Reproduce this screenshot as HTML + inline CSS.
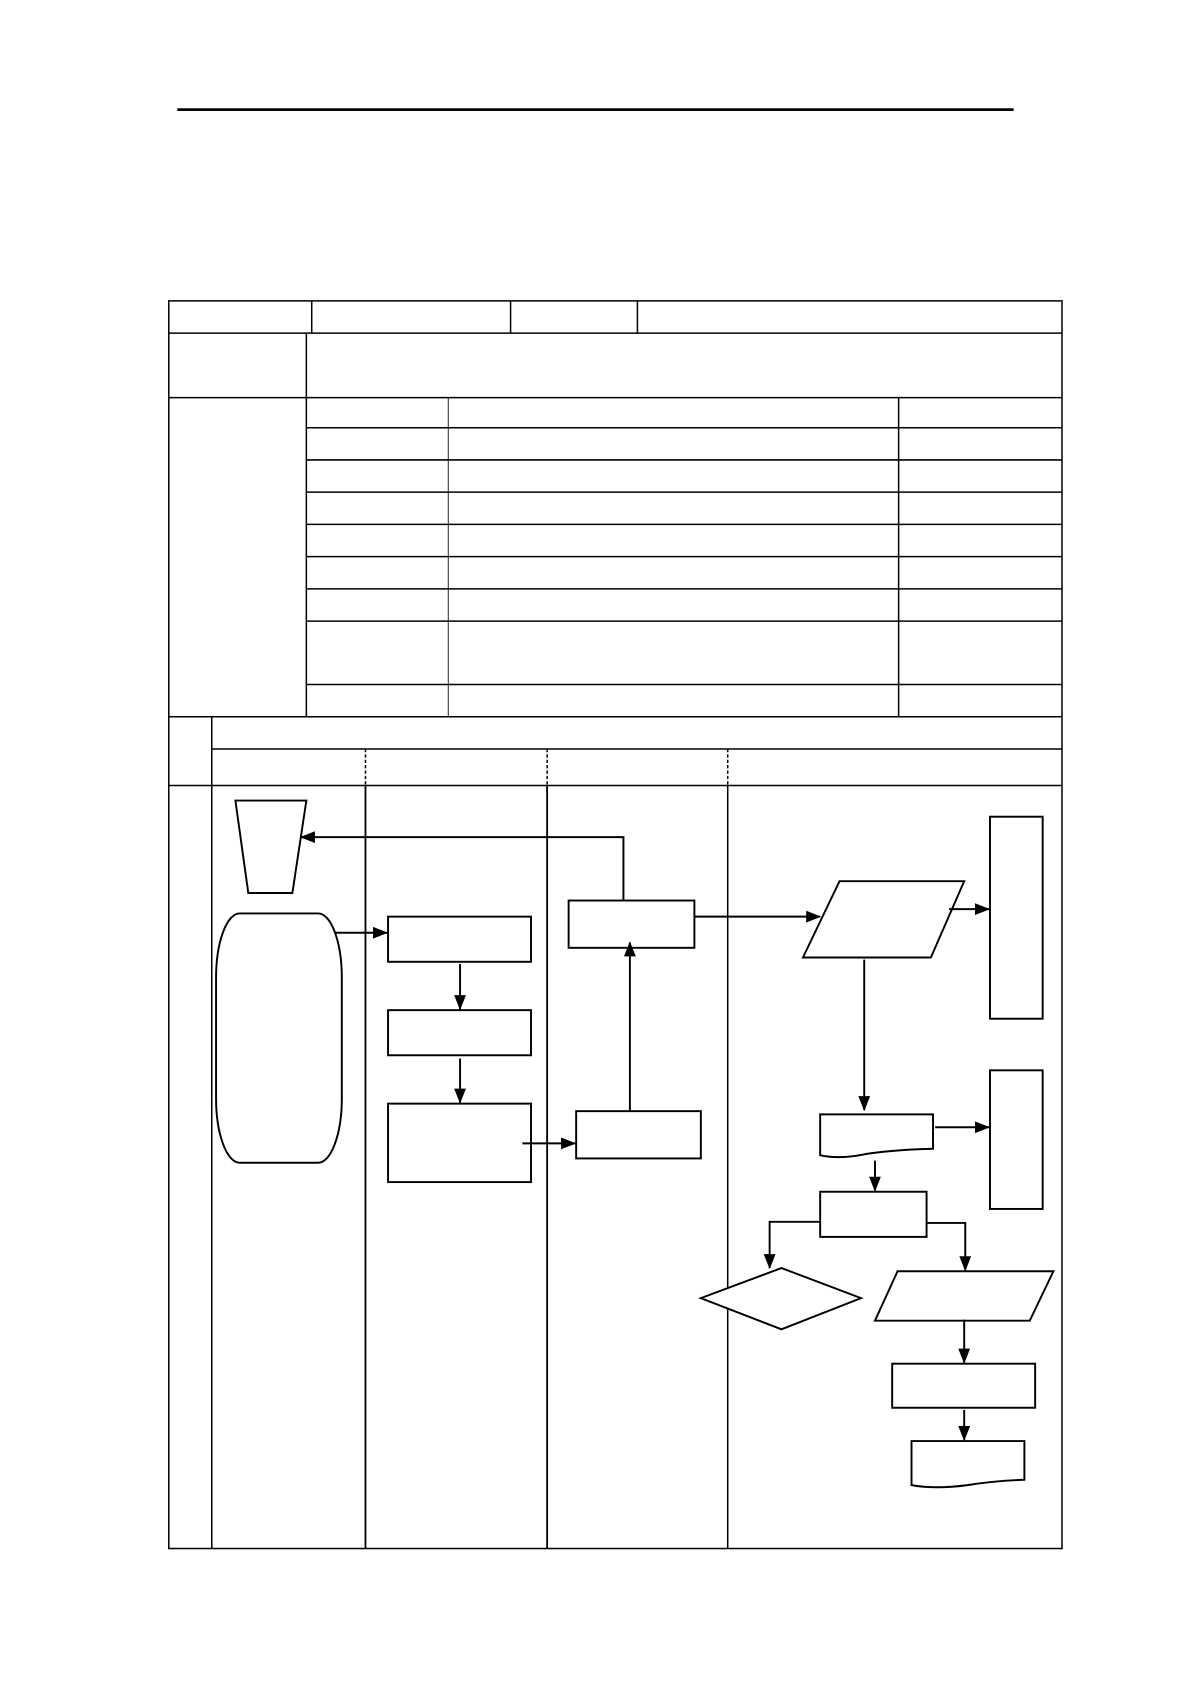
<!DOCTYPE html>
<html><head><meta charset="utf-8"><style>html,body{margin:0;padding:0;background:#fff}svg{display:block}</style></head>
<body>
<svg width="1191" height="1685" viewBox="0 0 1108 1568" preserveAspectRatio="none" xmlns="http://www.w3.org/2000/svg">
<defs><marker id="a" markerWidth="14" markerHeight="11" refX="13" refY="5.5" orient="auto" markerUnits="userSpaceOnUse"><path d="M0,0 L14,5.5 L0,11 z" fill="#000"/></marker></defs>
<line x1="165" y1="102" x2="943" y2="102" stroke="#000" stroke-width="2.5"/>
<g stroke="#000" stroke-width="1.4" fill="none">
<rect x="157" y="280" width="831" height="1161"/>
<line x1="290" y1="280" x2="290" y2="310"/><line x1="475" y1="280" x2="475" y2="310"/><line x1="593" y1="280" x2="593" y2="310"/>
<line x1="157" y1="310" x2="988" y2="310"/>
<line x1="285" y1="310" x2="285" y2="667"/>
<line x1="157" y1="370" x2="988" y2="370"/>
<line x1="285" y1="398" x2="988" y2="398"/><line x1="285" y1="428" x2="988" y2="428"/><line x1="285" y1="458" x2="988" y2="458"/><line x1="285" y1="488" x2="988" y2="488"/><line x1="285" y1="518" x2="988" y2="518"/><line x1="285" y1="548" x2="988" y2="548"/><line x1="285" y1="578" x2="988" y2="578"/><line x1="285" y1="637" x2="988" y2="637"/>
<line x1="417" y1="370" x2="417" y2="667" stroke-width="0.8"/><line x1="836" y1="370" x2="836" y2="667"/>
<line x1="157" y1="667" x2="988" y2="667"/>
<line x1="197" y1="667" x2="197" y2="1441"/>
<line x1="197" y1="697" x2="988" y2="697"/>
<g stroke-dasharray="3,2"><line x1="340" y1="697" x2="340" y2="731"/><line x1="509" y1="697" x2="509" y2="731"/><line x1="677" y1="697" x2="677" y2="731"/></g>
<line x1="157" y1="731" x2="988" y2="731"/>
<line x1="340" y1="731" x2="340" y2="1441" stroke-width="1.7"/><line x1="509" y1="731" x2="509" y2="1441" stroke-width="1.7"/><line x1="677" y1="731" x2="677" y2="1441"/>
</g>
<g stroke="#000" stroke-width="1.8" fill="#fff">
<path d="M219 745 L285 745 L272 831 L231 831 Z"/>
<rect x="201" y="850" width="117" height="232" rx="22" ry="60"/>
<rect x="361" y="853" width="133" height="42"/>
<rect x="361" y="940" width="133" height="42"/>
<rect x="361" y="1027" width="133" height="73"/>
<rect x="536" y="1034" width="116" height="44"/>
<rect x="529" y="838" width="117" height="44"/>
<path d="M781 820 L897 820 L866 891 L747 891 Z"/>
<rect x="921" y="760" width="49" height="188"/>
<path d="M763 1037 L868 1037 L868 1069 Q830 1070 805 1074 Q780 1079 763 1075 Z"/>
<rect x="921" y="996" width="49" height="129"/>
<rect x="763" y="1109" width="99" height="42"/>
<path d="M727 1180 L801 1208 L727 1237 L652 1208 Z"/>
<path d="M835 1183 L980 1183 L958 1229 L814 1229 Z"/>
<rect x="830" y="1269" width="133" height="41"/>
<path d="M848 1341 L953 1341 L953 1377 Q925 1378 900 1382 Q870 1386 848 1382 Z"/>
</g>
<g stroke="#000" stroke-width="1.8" fill="none" marker-end="url(#a)">
<line x1="312" y1="868" x2="360" y2="868"/>
<line x1="428" y1="897" x2="428" y2="939"/>
<line x1="428" y1="985" x2="428" y2="1026"/>
<line x1="486" y1="1064" x2="535" y2="1064"/>
<line x1="586" y1="1034" x2="586" y2="877"/>
<polyline points="580,838 580,779 280,779"/>
<line x1="646" y1="853" x2="763" y2="853"/>
<line x1="883" y1="846" x2="920" y2="846"/>
<line x1="804" y1="893" x2="804" y2="1033"/>
<line x1="870" y1="1049" x2="920" y2="1049"/>
<line x1="814" y1="1080" x2="814" y2="1108"/>
<polyline points="763,1137 716,1137 716,1180"/>
<polyline points="862,1138 898,1138 898,1182"/>
<line x1="897" y1="1228" x2="897" y2="1268"/>
<line x1="897" y1="1312" x2="897" y2="1340"/>
</g>
</svg>
</body></html>
